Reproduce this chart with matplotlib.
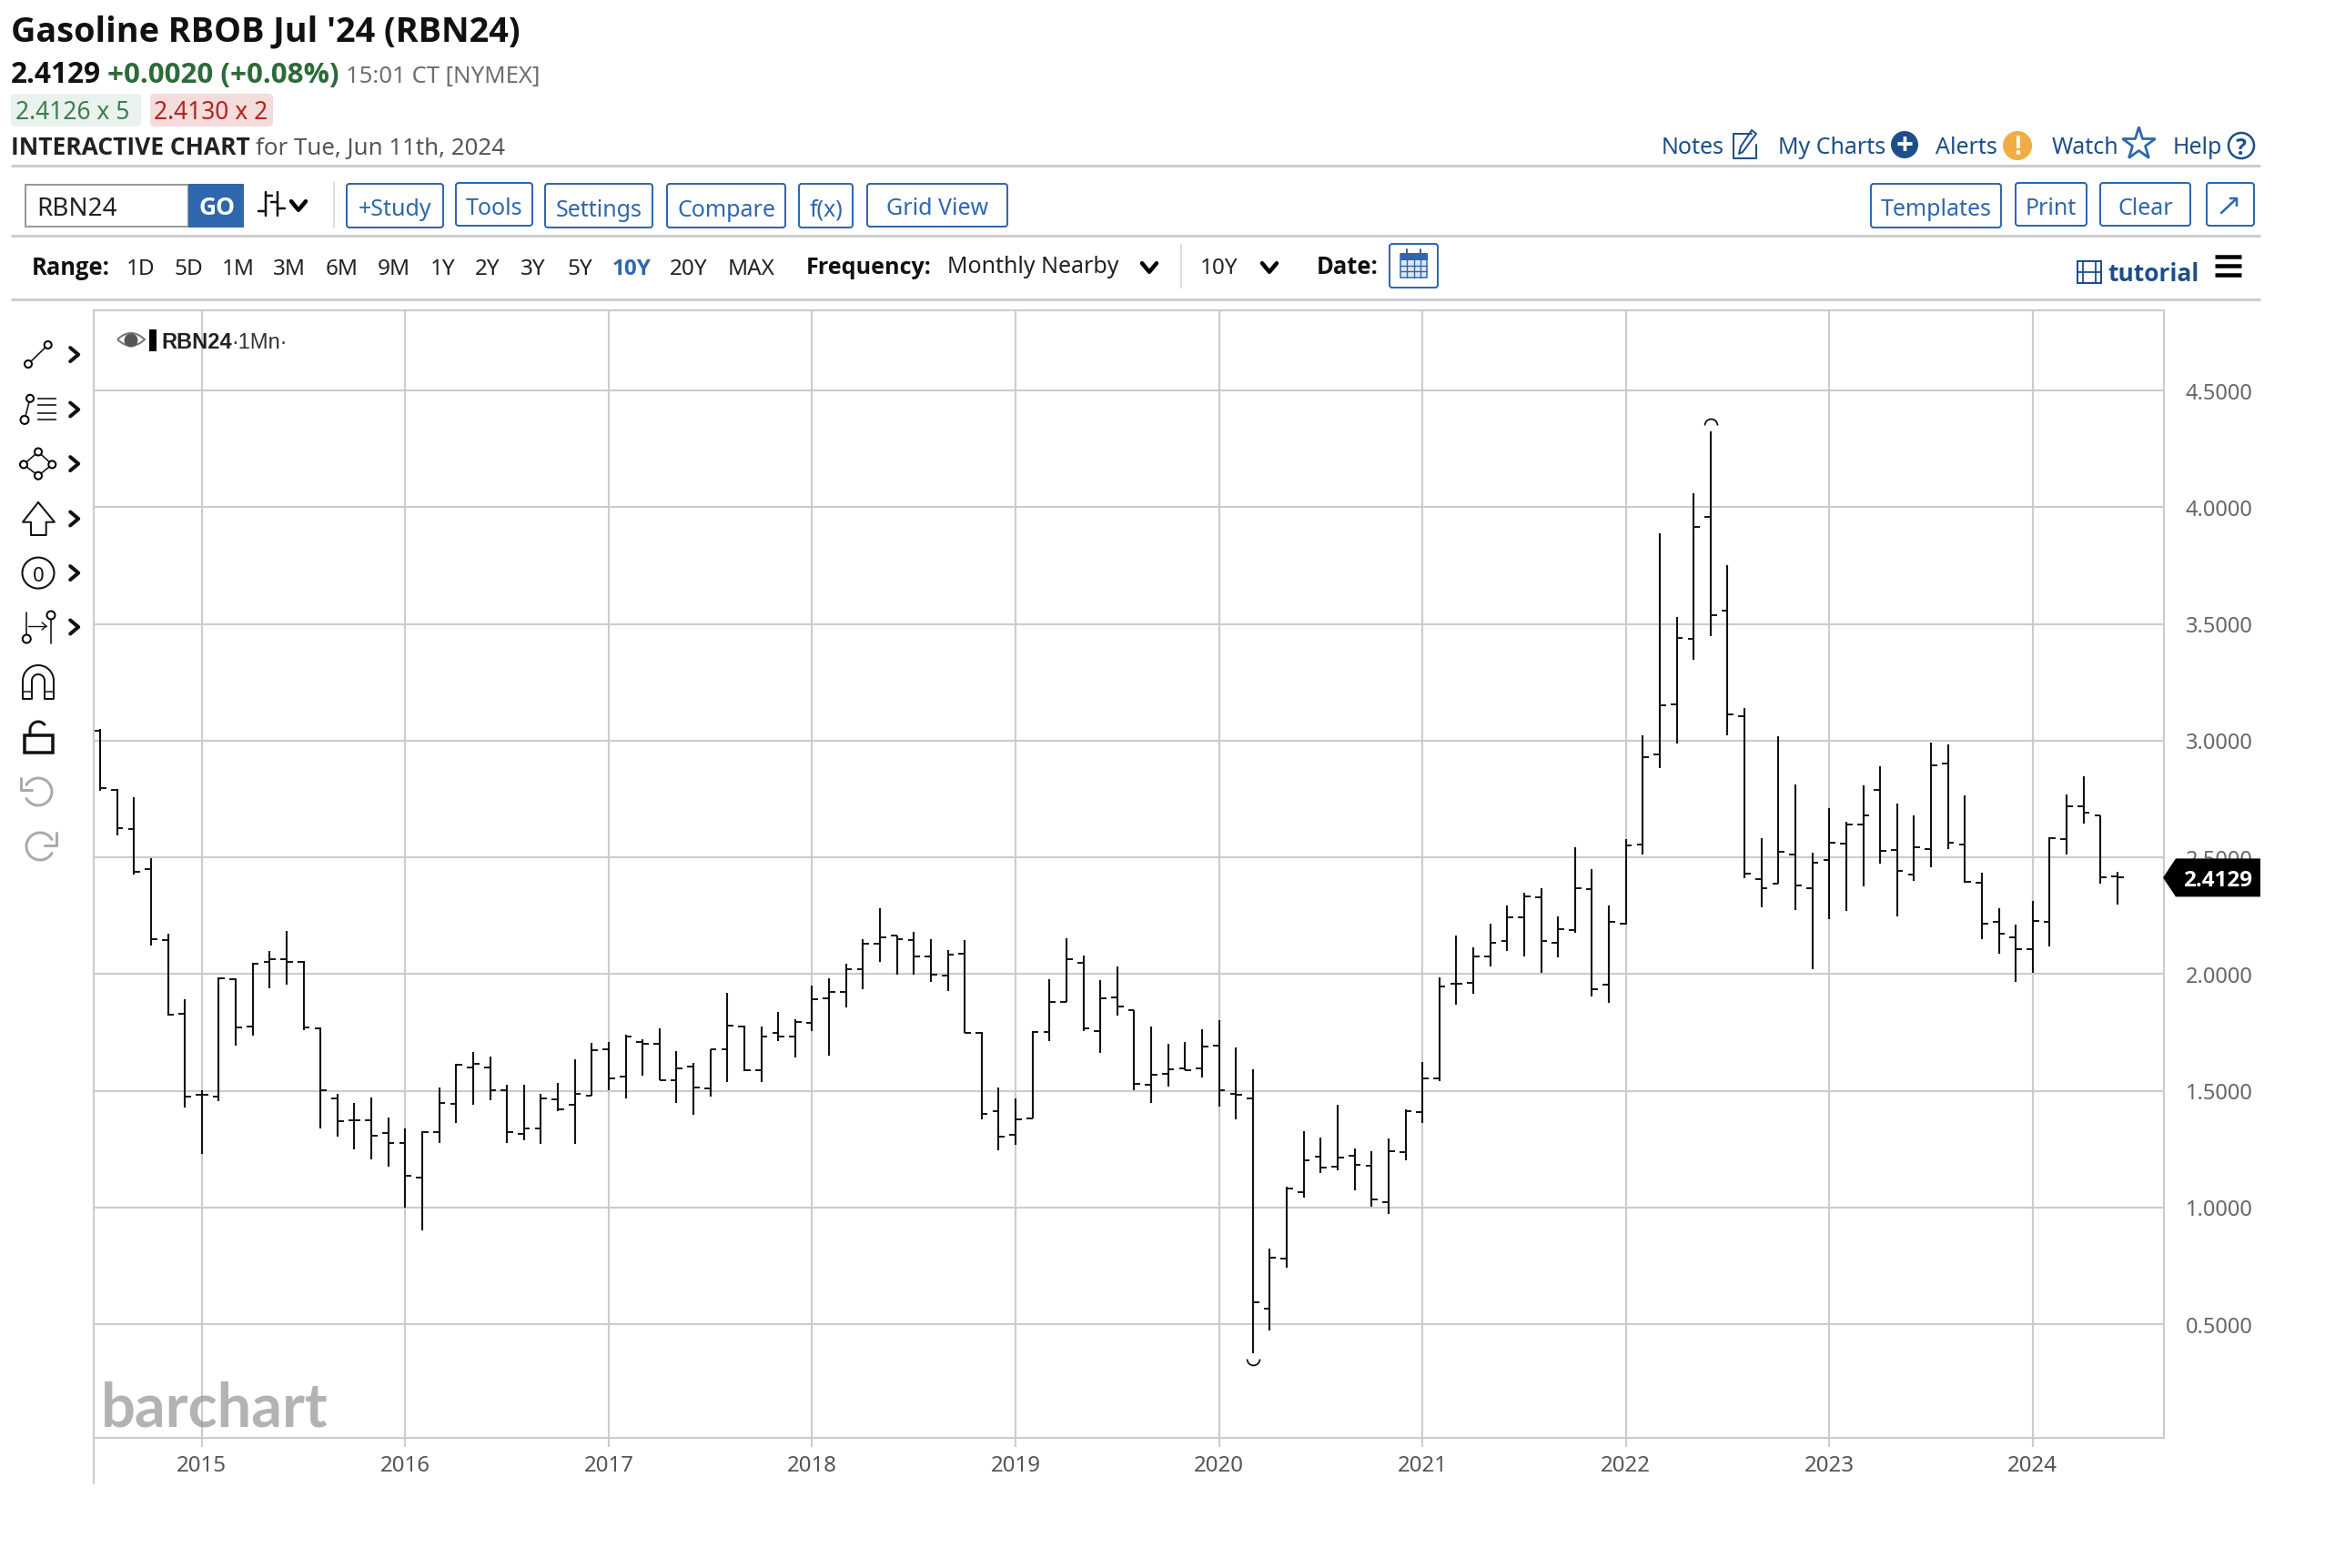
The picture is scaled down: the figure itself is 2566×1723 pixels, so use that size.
import matplotlib
matplotlib.use("Agg")
import matplotlib.pyplot as plt
import matplotlib.patches as mpatches
import matplotlib.transforms as mtransforms
from matplotlib.path import Path
import numpy as np

plt.rcParams["font.family"] = ["Noto Sans", "DejaVu Sans"]

# monthly bars Jul 2014 - Jun 2024
opens = [
    3.043, 2.788, 2.620, 2.448, 2.147, 1.831,
    1.483, 1.476, 1.978, 1.775, 2.053, 2.063, 2.050, 1.768, 1.466, 1.374, 1.372, 1.318,
    1.278, 1.127, 1.323, 1.445, 1.600, 1.598, 1.504, 1.316, 1.339, 1.462, 1.441, 1.478,
    1.676, 1.560, 1.708, 1.701, 1.546, 1.604, 1.510, 1.677, 1.775, 1.586, 1.749, 1.731,
    1.792, 1.894, 1.924, 2.019, 2.128, 2.165, 2.144, 2.074, 1.994, 2.088, 1.746, 1.412,
    1.312, 1.381, 1.750, 1.880, 2.049, 1.757, 1.899, 1.844, 1.527, 1.571, 1.594, 1.595,
    1.695, 1.488, 1.469, 0.566, 0.780, 1.065, 1.219, 1.174, 1.222, 1.180, 1.022, 1.236,
    1.408, 1.552, 1.959, 1.964, 2.076, 2.142, 2.241, 2.329, 2.134, 2.189, 2.363, 1.956,
    2.217, 2.554, 2.942, 3.157, 3.435, 3.960, 3.557, 3.104, 2.408, 2.388, 2.512, 2.369,
    2.490, 2.559, 2.639, 2.790, 2.530, 2.425, 2.534, 2.903, 2.556, 2.392, 2.224, 2.158,
    2.105, 2.224, 2.580, 2.720, 2.679, 2.417,
]
highs = [
    3.050, 2.793, 2.757, 2.498, 2.171, 1.891,
    1.504, 1.985, 1.980, 2.048, 2.097, 2.183, 2.056, 1.770, 1.487, 1.448, 1.471, 1.384,
    1.339, 1.327, 1.513, 1.617, 1.664, 1.645, 1.525, 1.525, 1.487, 1.535, 1.634, 1.704,
    1.709, 1.740, 1.722, 1.768, 1.671, 1.619, 1.677, 1.921, 1.778, 1.775, 1.839, 1.805,
    1.949, 1.982, 2.043, 2.150, 2.281, 2.165, 2.180, 2.150, 2.101, 2.146, 1.753, 1.515,
    1.466, 1.756, 1.979, 2.153, 2.080, 1.975, 2.033, 1.844, 1.775, 1.702, 1.707, 1.762,
    1.801, 1.685, 1.591, 0.824, 1.088, 1.328, 1.298, 1.438, 1.251, 1.242, 1.294, 1.420,
    1.623, 1.986, 2.165, 2.116, 2.214, 2.292, 2.350, 2.366, 2.245, 2.542, 2.449, 2.295,
    2.580, 3.021, 3.887, 3.531, 4.061, 4.324, 3.750, 3.138, 2.583, 3.018, 2.813, 2.519,
    2.710, 2.652, 2.810, 2.891, 2.730, 2.681, 2.993, 2.983, 2.766, 2.434, 2.282, 2.212,
    2.314, 2.586, 2.769, 2.849, 2.679, 2.437,
]
lows = [
    2.783, 2.595, 2.425, 2.121, 1.822, 1.428,
    1.229, 1.455, 1.695, 1.735, 1.938, 1.956, 1.758, 1.339, 1.304, 1.249, 1.205, 1.174,
    0.998, 0.901, 1.278, 1.361, 1.441, 1.461, 1.276, 1.287, 1.271, 1.414, 1.273, 1.478,
    1.504, 1.469, 1.563, 1.545, 1.449, 1.396, 1.473, 1.537, 1.585, 1.536, 1.711, 1.643,
    1.756, 1.652, 1.856, 1.935, 2.052, 1.997, 1.997, 1.966, 1.926, 1.749, 1.377, 1.246,
    1.269, 1.380, 1.711, 1.880, 1.756, 1.662, 1.820, 1.503, 1.448, 1.516, 1.589, 1.555,
    1.433, 1.376, 0.377, 0.474, 0.742, 1.044, 1.148, 1.158, 1.075, 1.005, 0.972, 1.203,
    1.363, 1.542, 1.868, 1.915, 2.033, 2.099, 2.076, 2.004, 2.072, 2.178, 1.905, 1.877,
    2.210, 2.510, 2.884, 2.986, 3.348, 3.447, 3.023, 2.410, 2.286, 2.388, 2.273, 2.019,
    2.234, 2.270, 2.376, 2.473, 2.248, 2.400, 2.459, 2.534, 2.393, 2.151, 2.088, 1.965,
    2.004, 2.117, 2.510, 2.644, 2.387, 2.298,
]
closes = [
    2.797, 2.625, 2.437, 2.149, 1.827, 1.474,
    1.481, 1.980, 1.772, 2.046, 2.065, 2.051, 1.770, 1.501, 1.370, 1.374, 1.309, 1.275,
    1.134, 1.323, 1.448, 1.610, 1.615, 1.504, 1.321, 1.337, 1.466, 1.420, 1.485, 1.674,
    1.553, 1.733, 1.702, 1.545, 1.597, 1.513, 1.676, 1.778, 1.588, 1.732, 1.731, 1.795,
    1.893, 1.923, 2.019, 2.128, 2.158, 2.150, 2.077, 1.996, 2.085, 1.749, 1.402, 1.302,
    1.377, 1.752, 1.880, 2.065, 1.769, 1.897, 1.862, 1.528, 1.567, 1.592, 1.589, 1.689,
    1.504, 1.483, 0.595, 0.785, 1.080, 1.201, 1.171, 1.212, 1.181, 1.034, 1.241, 1.411,
    1.552, 1.948, 1.957, 2.076, 2.135, 2.241, 2.333, 2.141, 2.193, 2.368, 1.936, 2.222,
    2.552, 2.930, 3.150, 3.440, 3.916, 3.536, 3.111, 2.429, 2.366, 2.525, 2.381, 2.476,
    2.564, 2.639, 2.679, 2.529, 2.441, 2.544, 2.893, 2.563, 2.395, 2.215, 2.173, 2.105,
    2.227, 2.581, 2.720, 2.690, 2.415, 2.4129,
]
year_labels = ["2015", "2016", "2017", "2018", "2019", "2020", "2021", "2022", "2023", "2024"]
price_ticks = [0.5, 1.0, 1.5, 2.0, 2.5, 3.0, 3.5, 4.0, 4.5]
range_labels = ["1D", "5D", "1M", "3M", "6M", "9M", "1Y", "2Y", "3Y", "5Y", "10Y", "20Y", "MAX"]
last_price = 2.4129

W, H = 2566, 1724
GRID = "#cccccc"
BLUE = "#2e67ae"
NAVY = "#1d4e89"
GRAY = "#666666"

fig = plt.figure(figsize=(W / 100, H / 100), dpi=100, facecolor="white")

# chart area, pixel box 103..2378 x 342..1581
ax = fig.add_axes([103 / W, 1 - 1581 / H, (2378 - 103) / W, (1581 - 342) / H])
months = np.arange(len(opens)) - 6  # months from Jan 2015
ax.set_xlim(-6.377, 115.74)
ax.set_ylim(0.0129, 4.8433)
ax.set_xticks(np.arange(len(year_labels)) * 12)
ax.set_xticklabels(year_labels)
ax.set_yticks(price_ticks)
ax.set_yticklabels([])
ax.grid(True, color=GRID, lw=1.5)
ax.set_axisbelow(True)
ax.tick_params(axis="x", length=7, width=1.5, color=GRID, labelsize=17.3, labelcolor="#555555", pad=6)
ax.tick_params(axis="y", length=0)
for s in ax.spines.values():
    s.set_color(GRID)
    s.set_linewidth(1.5)

ax.vlines(months, lows, highs, color="#111111", lw=1.5)
ax.hlines(opens, months - 0.36, months, color="#111111", lw=1.4)
ax.hlines(closes, months, months + 0.36, color="#111111", lw=1.4)

# contract high / low markers
hi = int(np.argmax(highs))
lo = int(np.argmin(lows))
ax.plot(months[hi], highs[hi], marker=Path.arc(0, 180), ms=10, mfc="none", mec="black", mew=1.2,
        transform=mtransforms.offset_copy(ax.transData, fig, y=7, units="dots"))
ax.plot(months[lo], lows[lo], marker=Path.arc(180, 360), ms=10, mfc="none", mec="black", mew=1.2,
        transform=mtransforms.offset_copy(ax.transData, fig, y=-6, units="dots"))

# everything around the chart sits on an overlay in pixel coordinates
ui = fig.add_axes([0, 0, 1, 1], facecolor="none")
ui.set_xlim(0, W)
ui.set_ylim(H, 0)
ui.axis("off")


def text(x, y, s, size=17, color="#333333", weight="normal", ha="left", **kw):
    if weight == "bold" and "family" not in kw:
        kw["family"] = ["Open Sans", "DejaVu Sans"]
    return ui.text(x, y, s, fontsize=size, color=color, fontweight=weight, ha=ha, va="baseline", **kw)


def hline(x0, x1, y, color=GRID, lw=3):
    ui.plot([x0, x1], [y, y], color=color, lw=lw * 0.72, solid_capstyle="butt")


def line(xs, ys, color="black", lw=2):
    ui.plot(xs, ys, color=color, lw=lw * 0.72, solid_capstyle="round", solid_joinstyle="round")


def box(x0, y0, x1, y1, fc="white", ec=BLUE, lw=2, rounded=0):
    if rounded:
        p = mpatches.FancyBboxPatch((x0, y0), x1 - x0, y1 - y0, boxstyle=f"round,pad=0,rounding_size={rounded}",
                                    fc=fc, ec=ec, lw=lw * 0.72)
    else:
        p = mpatches.Rectangle((x0, y0), x1 - x0, y1 - y0, fc=fc, ec=ec, lw=lw * 0.72)
    ui.add_patch(p)


def circle(x, y, r, fc="white", ec="black", lw=2):
    ui.add_patch(mpatches.Circle((x, y), r, fc=fc, ec=ec, lw=lw * 0.72, zorder=3))


def chevron(x, y, w=8, color="black", lw=4.5, right=False):
    if right:
        line([x - w * 0.6, x + w * 0.6, x - w * 0.6], [y - w, y, y + w], color, lw)
    else:
        line([x - w, x, x + w], [y - w * 0.6, y + w * 0.6, y - w * 0.6], color, lw)


# left axis stub below the chart
ui.plot([103, 103], [1581, 1631], color=GRID, lw=1.5)

# y labels and last price tag
for v in price_ticks:
    y_px = ax.transData.transform((0, v))[1]
    text(2402, H - y_px + 8.5, f"{v:.4f}", 17, GRAY)
y_tag = H - ax.transData.transform((0, last_price))[1]
ui.add_patch(mpatches.Polygon([(2377, y_tag), (2391, y_tag - 21), (2484, y_tag - 21), (2484, y_tag + 21),
                               (2391, y_tag + 21)], fc="black", ec="none", zorder=4))
text(2437, y_tag + 9, f"{last_price:.4f}", 17.5, "white", "bold", ha="center", zorder=5)

# logo
text(111, 1568, "barchart", 48, "#9a9a9a", "bold", family="Lato", alpha=0.75)

# chart legend
eye = Path([(129, 374), (144, 360), (159, 374), (144, 388), (129, 374)],
           [Path.MOVETO, Path.CURVE3, Path.CURVE3, Path.CURVE3, Path.CURVE3])
ui.add_patch(mpatches.PathPatch(eye, fc="white", ec="#777777", lw=1.5))
circle(144, 375, 7, "#555555", "#555555", 1)
box(164, 363, 172, 387, "black", "black", 0)
text(177, 383, "RBN24", 17, "#222222", "bold", family="Liberation Sans")
text(254, 383, "\u00b71Mn\u00b7", 17, "#333333", family="Liberation Sans")

# header
text(12, 45, "Gasoline RBOB Jul '24 (RBN24)", 27.2, "#111111", "bold")
text(12, 91, "2.4129", 22.8, "#111111", "bold")
text(118, 91, "+0.0020 (+0.08%)", 22.6, "#2d6a3a", "bold")
text(380, 91, "15:01 CT [NYMEX]", 18.5, "#6e6e6e")
box(12, 104, 155, 140, "#e9f2ec", "none", 0, 5)
box(165, 104, 300, 140, "#f3dcdc", "none", 0, 5)
text(80, 131, "2.4126 x 5", 19, "#3f7d4f", ha="center")
text(232, 131, "2.4130 x 2", 19, "#b5231e", ha="center")
text(12, 170, "INTERACTIVE CHART", 19, "#222222", "bold")
text(281, 170, "for Tue, Jun 11th, 2024", 18.6, "#555555")
hline(12, 2484, 183)
hline(12, 2484, 260)
hline(12, 2484, 330)

# top right links
text(1826, 169, "Notes", 18, NAVY)
text(1954, 169, "My Charts", 18, NAVY)
text(2127, 169, "Alerts", 18, NAVY)
text(2255, 169, "Watch", 18, NAVY)
text(2388, 169, "Help", 18, NAVY)
line([1925, 1905, 1905, 1930, 1930], [148, 148, 175, 175, 160], NAVY, 2)
line([1913, 1911, 1915, 1930, 1925, 1913], [162, 170, 168, 148, 144, 162], NAVY, 2)
circle(2093, 160, 14, NAVY, NAVY)
text(2093, 170, "+", 24, "white", "bold", ha="center", zorder=5)
circle(2217, 161, 15, "#f0ad44", "#f0ad44")
text(2217, 170, "!", 20, "white", "bold", ha="center", zorder=5)
ui.plot(2350, 159, marker="*", ms=27, mfc="white", mec=BLUE, mew=2)
circle(2463, 161, 14, "white", NAVY, 2.5)
text(2463, 170, "?", 18, NAVY, "bold", ha="center", zorder=5)

# symbol box and toolbar
box(28, 204, 207, 250, "white", "#999999", 2)
text(40, 237, "RBN24", 20, "#222222")
box(207, 203, 268, 251, BLUE, BLUE, 0)
text(238, 236, "GO", 19, "white", "bold", ha="center")
line([291.5, 291.5], [212, 238], "#111111", 2.5)
line([305, 305], [212, 238], "#111111", 2.5)
line([284, 291.5], [233, 233], "#111111", 2.5)
line([291.5, 299], [216, 216], "#111111", 2.5)
line([298, 305], [223, 223], "#111111", 2.5)
line([305, 313], [230, 230], "#111111", 2.5)
chevron(328, 227, 8)
ui.plot([367, 367], [202, 251], color="#dddddd", lw=1.5)

for x0, x1, y0, y1, label, base in [
    (381, 487, 203, 251, "+Study", 237),
    (501, 585, 202, 249, "Tools", 236.5),
    (599, 717, 203, 251, "Settings", 238),
    (733, 863, 203, 251, "Compare", 238),
    (878, 937, 203, 251, "f(x)", 238),
    (953, 1107, 203, 250, "Grid View", 236),
    (2056, 2199, 203, 251, "Templates", 237),
    (2215, 2293, 202, 249, "Print", 236.5),
    (2308, 2407, 202, 249, "Clear", 236.5),
]:
    box(x0, y0, x1, y1, "white", BLUE, 2, 3)
    text((x0 + x1) / 2, base, label, 18, BLUE, ha="center")
box(2425, 202, 2477, 249, "white", BLUE, 2, 3)
line([2441, 2458], [235, 219], BLUE, 2.5)
line([2451, 2458, 2458], [219, 219, 227], BLUE, 2.5)

# range row
text(35, 302, "Range:", 18.4, "#111111", "bold")
range_x = [155, 207, 262, 318, 376, 433, 487, 536, 586, 637, 694, 757, 826]
for x, lab in zip(range_x, range_labels):
    if lab == "10Y":
        text(x, 302, lab, 17.5, BLUE, "bold", ha="center")
    else:
        text(x, 302, lab, 17.5, "#222222", ha="center")
text(886, 301, "Frequency:", 18.1, "#111111", "bold")
text(1041, 300, "Monthly Nearby", 18, "#222222")
chevron(1263, 295, 8)
ui.plot([1298, 1298], [270, 317], color="#dddddd", lw=1.5)
text(1340, 301, "10Y", 17.5, "#222222", ha="center")
chevron(1395, 295, 8)
text(1447, 301, "Date:", 18.4, "#111111", "bold")
box(1527, 269, 1580, 317, "white", BLUE, 2, 3)
box(1539, 280, 1568, 306, "#dfe8f3", BLUE, 1.5)
box(1539, 279, 1568, 286, BLUE, BLUE, 1)
for gx in [1546, 1553.5, 1561]:
    ui.plot([gx, gx], [286, 306], color=BLUE, lw=1)
for gy in [292.5, 299]:
    ui.plot([1539, 1568], [gy, gy], color=BLUE, lw=1)
line([1546, 1546], [275, 282], BLUE, 2)
line([1561, 1561], [275, 282], BLUE, 2)

box(2283, 288, 2309, 312, "white", NAVY, 2)
ui.plot([2289, 2289], [288, 312], color=NAVY, lw=1.3)
ui.plot([2303, 2303], [288, 312], color=NAVY, lw=1.3)
ui.plot([2283, 2309], [300, 300], color=NAVY, lw=1.3)
text(2316, 309, "tutorial", 19, NAVY, "bold")
for y in [283, 293, 303]:
    hline(2434, 2463, y, "black", 4.5)

# drawing tools on the left
black = "#111111"
for y in [390.6, 451, 510.6, 571, 630.6, 690]:
    chevron(81.7, y, 7.5, black, 4, right=True)
line([31, 52.7], [401, 380], black, 1.6)
circle(31, 401, 4)
circle(52.7, 380, 4)
line([27, 33], [462, 439], black, 1.6)
circle(27, 462.4, 4.5)
circle(33, 438.8, 4)
for y in [438.8, 446, 455, 462.4]:
    hline(40.7, 61.7, y, black, 1.6)
line([26, 42, 57.3, 42, 26], [511.4, 497.5, 511.4, 523.7, 511.4], black, 1.6)
for cx, cy in [(26, 511.4), (42, 497.5), (57.3, 511.4), (42, 523.7)]:
    circle(cx, cy, 4)
line([42, 25, 34, 34, 50.7, 50.7, 60, 42], [553, 574.7, 574.7, 589, 589, 574.7, 574.7, 553], black, 2)
ui.add_patch(mpatches.Ellipse((42, 630.6), 35, 34, fc="white", ec=black, lw=1.5))
text(42, 639, "0", 16, black, ha="center")
line([29.3, 29.3], [674, 700], black, 1.6)
circle(29.3, 703, 4.5)
line([31, 51], [689, 689], black, 1.4)
line([46, 51, 46], [685, 689, 693], black, 1.4)
line([55.5, 55.5], [681, 708], black, 1.6)
circle(56, 677, 4.5)
t = np.linspace(np.pi, 2 * np.pi, 30)
line(42 + 17 * np.cos(t), 749 + 17 * np.sin(t), black, 2)
line(42 + 7 * np.cos(t), 749 + 7 * np.sin(t), black, 2)
line([25, 25, 35, 35], [749, 769, 769, 749], black, 2)
line([49, 49, 59, 59], [749, 769, 769, 749], black, 2)
hline(25, 35, 761, black, 1.5)
hline(49, 59, 761, black, 1.5)
# open padlock
box(27, 809, 58, 828, "white", black, 3.5)
t = np.radians(np.linspace(180, 320, 20))
line(np.r_[33, 42 + 9 * np.cos(t)], np.r_[809, 803 + 9 * np.sin(t)], black, 3)
# undo / redo
t = np.radians(np.linspace(-150, 150, 40))
line(42 + 15 * np.cos(t), 871 + 15 * np.sin(t), "#aaaaaa", 3)
line([23, 23, 35], [856, 869, 869], "#aaaaaa", 3)
t = np.radians(np.linspace(-30, -330, 40))
line(44 + 15 * np.cos(t), 931 + 15 * np.sin(t), "#aaaaaa", 3)
line([61.7, 61.7, 49], [916, 930, 930], "#aaaaaa", 3)

fig.savefig("out.png", dpi=100)
